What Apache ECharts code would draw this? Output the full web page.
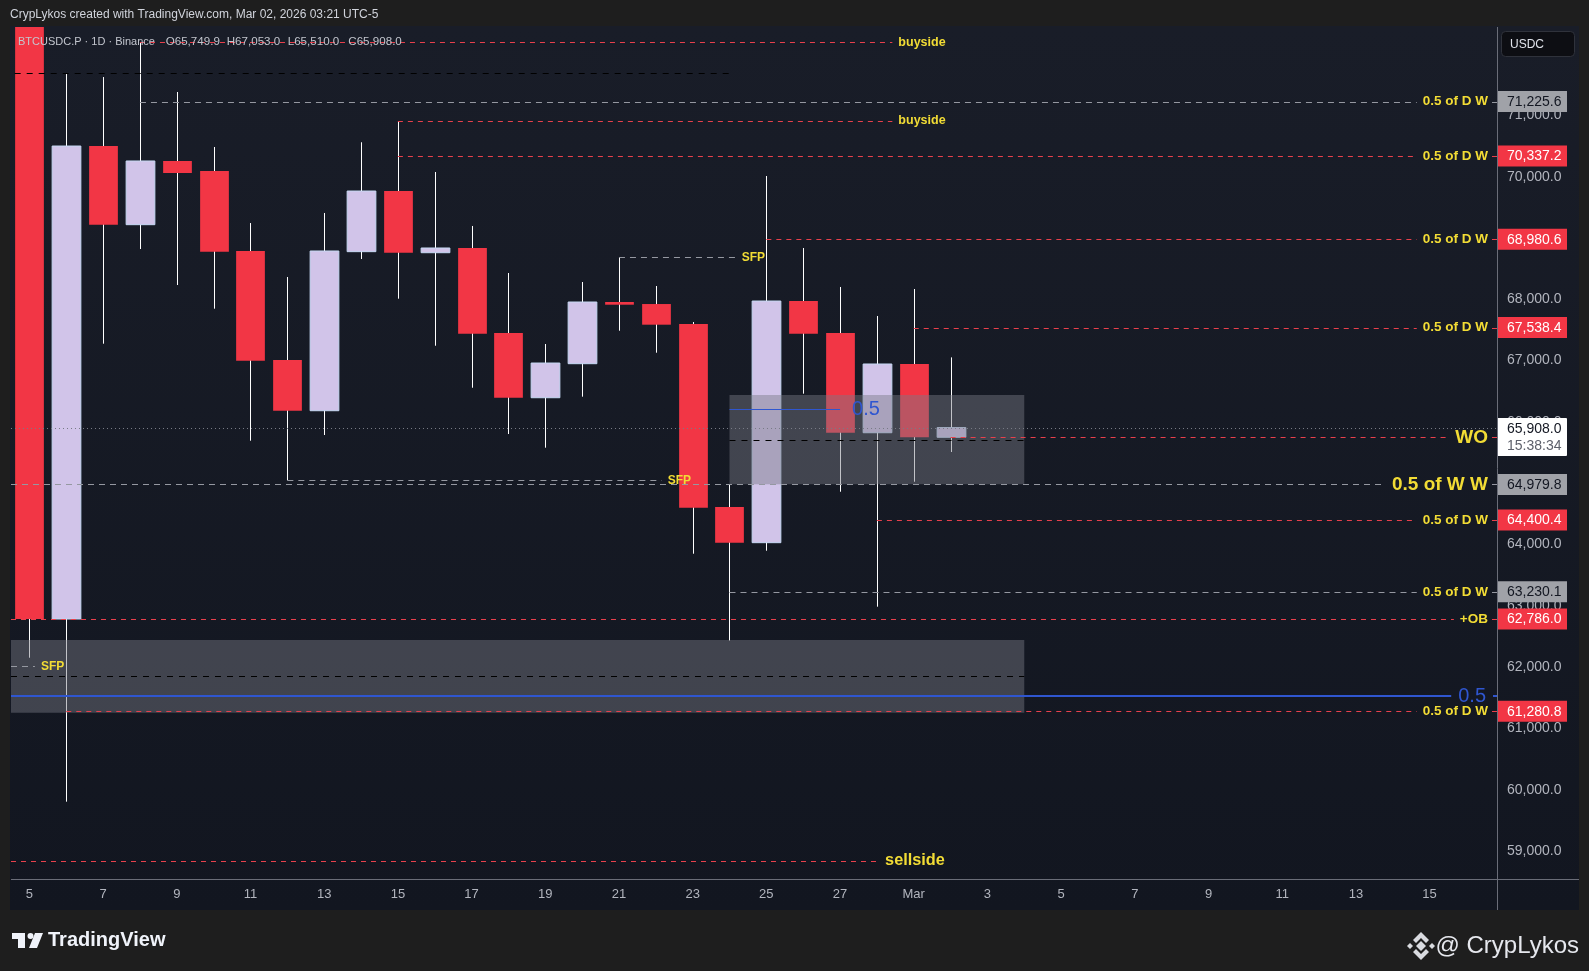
<!DOCTYPE html>
<html>
<head>
<meta charset="utf-8">
<script src="https://cdn.jsdelivr.net/npm/echarts@6/dist/echarts.min.js"></script>
<style>
html,body{margin:0;padding:0;background:#1e1e1e;}
#c{width:1589px;height:971px;}
</style>
</head>
<body>
<div id="c"></div>
<script>
// ---------------- DATA ----------------
const headerText = 'CrypLykos created with TradingView.com, Mar 02, 2026 03:21 UTC-5';
const symbolInfo = 'BTCUSDC.P · 1D · Binance';
const quoteCurrency = 'USDC';
const countdown = '15:38:34';

// daily candles, Feb 5 (index 0) .. Mar 2 (index 25)
const days   = ['Feb 5','Feb 6','Feb 7','Feb 8','Feb 9','Feb 10','Feb 11','Feb 12','Feb 13','Feb 14','Feb 15','Feb 16','Feb 17','Feb 18','Feb 19','Feb 20','Feb 21','Feb 22','Feb 23','Feb 24','Feb 25','Feb 26','Feb 27','Feb 28','Mar 1','Mar 2'];
const opens  = [73200, 62786, 70500, 69217, 70256, 70093, 68788, 67010, 66183, 68777, 69766, 68760, 68837, 67451, 66395, 66950, 67956, 67923, 67597, 64613, 64031, 67972, 67451, 65824, 66945, 65749.9];
const closes = [62786, 70500, 69217, 70256, 70060, 68777, 66999, 66183, 68788, 69766, 68760, 68837, 67439, 66395, 66961, 67956, 67912, 67586, 64601, 64031, 67972, 67439, 65824, 66945, 65749.9, 65908.0];
const lows   = [62155, 59807, 67276, 68820, 68233, 67847, 65694, 65048, 65787, 68657, 68010, 67243, 66558, 65803, 65580, 66412, 67488, 67129, 63851, 62434, 63900, 66461, 64862, 62987, 65025, 65510.0];
const highs  = [73400, 71675, 71625, 72180, 71381, 70484, 69244, 68364, 69408, 70561, 70908, 70076, 69196, 68429, 67271, 68282, 68685, 68217, 67630, 64972, 70011, 68837, 68201, 67728, 68168, 67053.0];

// axis ticks
const xTickIdx    = [0,2,4,6,8,10,12,14,16,18,20,22,24,26,28,30,32,34,36,38];
const xTickLabels = ['5','7','9','11','13','15','17','19','21','23','25','27','Mar','3','5','7','9','11','13','15'];
const yTicks      = [59000,60000,61000,62000,63000,64000,65000,66000,67000,68000,69000,70000,71000];

// horizontal levels with right-side labels (start bar index)
const levelValues = [71225.6, 70337.2, 68980.6, 67538.4, 65749.9, 64979.8, 64400.4, 63230.1, 62786.0, 61280.8];
const levelFrom   = [3, 10, 20, 24, 25, -0.5, 23, 19, -0.5, 1];
const levelText   = ['0.5 of D W','0.5 of D W','0.5 of D W','0.5 of D W','WO','0.5 of W W','0.5 of D W','0.5 of D W','+OB','0.5 of D W'];
const levelKind   = ['gray','red','red','red','red','gray','red','gray','red','red'];
const levelTagged = [true, true, true, true, false, true, true, true, true, true];

// liquidity / SFP notes (line from bar to bar, text after)
const noteValues = [72190, 70908, 58840, 68685, 65048, 62015];
const noteFrom   = [3, 10, -0.5, 16, 7, -0.5];
const noteTo     = [23.42, 23.42, 23.06, 19.17, 17.16, 0.15];
const noteText   = ['buyside','buyside','sellside','SFP','SFP','SFP'];
const noteKind   = ['red','red','red','gray','gray','gray'];

// black dashed level
const blackValues = [71696];
const blackFrom   = [-0.4];
const blackTo     = [19];

// rectangles (zones)
const boxFrom = [19, -0.5];
const boxTo   = [27, 27];
const boxHigh = [66439, 62443];
const boxLow  = [64983, 61258];

// 0.5 fib lines
const fibValues = [66206, 61530];
const fibFrom   = [19, -0.5];
const fibTo     = [22, 39.83];
const fibText   = ['0.5', '0.5'];

// ---------------- LAYOUT / STYLE ----------------
const X_MIN = -0.5, X_MAX = 39.83, Y_MIN = 58546, Y_MAX = 72441;
const FONT = 'Liberation Sans';
const C = {
  red: '#F23645', redLine: '#e8404c', gray: '#9598a1', grayTag: '#a0a2a8',
  yellow: '#f2dc35', up: '#d1c4e9', upBorder: '#c6d8f3', down: '#F23645',
  blue: '#2f56d0', axisText: '#b2b5be', dark: '#131722'
};
const NOTE_FONT = { buyside: 12.5, sellside: 16.3, SFP: 12 };

const mctx = document.createElement('canvas').getContext('2d');
function textW(s, size, weight) {
  mctx.font = (weight || 'normal') + ' ' + size + 'px ' + FONT;
  return mctx.measureText(s).width;
}
function fmtNum(v) {
  const s = v.toFixed(1).split('.');
  return s[0].replace(/\B(?=(\d{3})+(?!\d))/g, ',') + '.' + s[1];
}
function hline(x1, x2, y, color, dash, width) {
  return { type: 'line', shape: { x1: x1, y1: y, x2: x2, y2: y },
    style: { stroke: color, lineWidth: width || 1, lineDash: dash || null } };
}
function txt(s, x, y, size, weight, color, align, extra) {
  const st = {
    text: s, fill: color, textFill: color,
    fontSize: size, fontWeight: weight, fontFamily: FONT,
    align: align, textAlign: align, verticalAlign: 'middle', textVerticalAlign: 'middle'
  };
  if (extra) Object.assign(st, extra);
  return { type: 'text', x: x, y: y, style: st };
}
const snap = y => Math.round(y) + 0.5;

// ---------------- RENDERERS ----------------
function renderCandle(params, api) {
  const i = api.value(0), o = api.value(1), c = api.value(2), l = api.value(3), h = api.value(4);
  const pO = api.coord([i, o]), pC = api.coord([i, c]), pL = api.coord([i, l]), pH = api.coord([i, h]);
  const w = api.size([1, 0])[0] * 0.78;
  const up = c >= o;
  const cx = Math.round(pO[0]);
  const top = Math.min(pO[1], pC[1]), bot = Math.max(pO[1], pC[1]);
  return { type: 'group', children: [
    { type: 'line', shape: { x1: cx + 0.5, y1: pH[1], x2: cx + 0.5, y2: pL[1] }, style: { stroke: '#ffffff', lineWidth: 1 } },
    { type: 'rect', shape: { x: cx + 0.5 - w / 2, y: top, width: w, height: Math.max(bot - top, 2) },
      style: up ? { fill: C.up, stroke: C.upBorder, lineWidth: 1 } : { fill: C.down } }
  ]};
}

function renderBox(params, api) {
  const k = api.value(2);
  const a = api.coord([boxFrom[k], boxHigh[k]]);
  const b = api.coord([boxTo[k], boxLow[k]]);
  const m = api.coord([boxFrom[k], (boxHigh[k] + boxLow[k]) / 2]);
  return { type: 'group', children: [
    { type: 'rect', shape: { x: a[0], y: a[1], width: b[0] - a[0], height: b[1] - a[1] },
      style: { fill: 'rgba(120,123,134,0.45)' } },
    hline(a[0], b[0], snap(m[1]), '#000000', [6, 6])
  ]};
}

function renderBlack(params, api) {
  const k = api.value(2);
  const a = api.coord([blackFrom[k], blackValues[k]]);
  const b = api.coord([blackTo[k], blackValues[k]]);
  return hline(a[0], b[0], snap(a[1]), '#000000', [6, 6]);
}

function renderNote(params, api) {
  const k = api.value(2);
  const a = api.coord([noteFrom[k], noteValues[k]]);
  const b = api.coord([noteTo[k], noteValues[k]]);
  const col = noteKind[k] === 'red' ? C.redLine : C.gray;
  return { type: 'group', children: [
    hline(a[0], b[0], snap(a[1]), col, noteKind[k] === 'red' ? [5, 5] : [6, 5]),
    txt(noteText[k], b[0] + 6, a[1], NOTE_FONT[noteText[k]], 'bold', C.yellow, 'left')
  ]};
}

function renderFib(params, api) {
  const k = api.value(2);
  const cs = params.coordSys;
  const R = cs.x + cs.width;
  const a = api.coord([fibFrom[k], fibValues[k]]);
  const b = api.coord([fibTo[k], fibValues[k]]);
  const y = Math.round(a[1]) + (k === 1 ? 0 : 0.5);
  const lw = k === 1 ? 2 : 1;
  const fs = 20;
  if (b[0] >= R - 1) {
    const tr = R - 11, tw = textW(fibText[k], fs);
    return { type: 'group', children: [
      hline(a[0], tr - tw - 7, y, C.blue, null, lw),
      hline(R - 4, R, y, C.blue, null, lw),
      txt(fibText[k], tr, a[1], fs, 'normal', C.blue, 'right')
    ]};
  }
  return { type: 'group', children: [
    hline(a[0], b[0], y, C.blue, null, lw),
    txt(fibText[k], b[0] + 12, a[1], fs, 'normal', C.blue, 'left')
  ]};
}

function renderLevel(params, api) {
  const k = api.value(2);
  const v = levelValues[k];
  const cs = params.coordSys;
  const R = cs.x + cs.width;
  const a = api.coord([levelFrom[k], v]);
  const y = snap(a[1]);
  const big = (levelText[k] === 'WO' || levelText[k] === '0.5 of W W');
  const fs = big ? 19 : 13.5;
  const tr = R - 9;
  const tw = textW(levelText[k], fs, 'bold');
  const gap = big ? 9 : 6;
  const red = levelKind[k] === 'red';
  const col = red ? C.redLine : C.gray;
  const ch = [
    hline(a[0], tr - tw - gap, y, col, red ? [5, 5] : [6, 5]),
    hline(tr + 4, R, y, col, null),
    txt(levelText[k], tr, a[1], fs, 'bold', C.yellow, 'right')
  ];
  if (levelTagged[k]) {
    ch.push({ type: 'rect', shape: { x: R, y: a[1] - 10.5, width: 70, height: 21 },
      style: { fill: red ? C.red : C.grayTag } });
    ch.push(txt(fmtNum(v), R + 10, a[1] + 0.5, 14, 'normal', red ? '#ffffff' : C.dark, 'left'));
  }
  return { type: 'group', children: ch };
}

function renderLast(params, api) {
  const v = api.value(1);
  const cs = params.coordSys;
  const L = cs.x, R = cs.x + cs.width;
  const a = api.coord([X_MIN, v]);
  return { type: 'group', children: [
    hline(L, R, snap(a[1]), '#787b86', [1, 3]),
    { type: 'rect', shape: { x: R, y: a[1] - 9.5, width: 70, height: 38, r: 1 }, style: { fill: '#ffffff' } },
    txt(fmtNum(v), R + 10, a[1] + 1.5, 14, 'normal', C.dark, 'left'),
    txt(countdown, R + 10, a[1] + 18.5, 14, 'normal', '#5d606b', 'left')
  ]};
}

// ---------------- CHART ----------------
const chart = echarts.init(document.getElementById('c'), null, { renderer: 'canvas' });
const last = closes.length - 1;
const legendParts = [
  ['O' + fmtNum(opens[last]), 165.7],
  ['H' + fmtNum(highs[last]), 226.7],
  ['L' + fmtNum(lows[last]), 287.7],
  ['C' + fmtNum(closes[last]), 348.3]
];

function gtext(s, x, y, size, weight, color, align, z) {
  const t = txt(s, x, y, size, weight, color, align);
  t.z = z || 100;
  return t;
}

const graphics = [
  { type: 'rect', z: -100, shape: { x: 10, y: 26, width: 1569, height: 884 },
    style: { fill: new echarts.graphic.LinearGradient(0, 0, 0, 1, [
      { offset: 0, color: '#191d28' }, { offset: 1, color: '#121620' }]) } },
  { type: 'line', z: 50, shape: { x1: 11, y1: 879.5, x2: 1579, y2: 879.5 }, style: { stroke: '#6a6d78', lineWidth: 1 } },
  { type: 'line', z: 50, shape: { x1: 1497.5, y1: 27, x2: 1497.5, y2: 910 }, style: { stroke: '#6a6d78', lineWidth: 1 } },
  gtext(headerText, 10, 14.5, 12, 'normal', '#d1d4dc', 'left'),
  gtext(symbolInfo, 18, 41.7, 11, 'normal', '#c3c6ce', 'left'),
  { type: 'rect', z: 100, shape: { x: 1501.5, y: 31.5, width: 73, height: 25, r: 4 },
    style: { fill: '#0d0e13', stroke: '#2f323b', lineWidth: 1 } },
  gtext(quoteCurrency, 1510, 44.5, 12, 'normal', '#e0e3eb', 'left'),
  // TradingView logo
  { type: 'rect', z: 100, shape: { x: 12, y: 933, width: 13, height: 6 }, style: { fill: '#f0f3fa' } },
  { type: 'rect', z: 100, shape: { x: 18, y: 933, width: 7, height: 15 }, style: { fill: '#f0f3fa' } },
  { type: 'circle', z: 100, shape: { cx: 30.5, cy: 936, r: 3 }, style: { fill: '#f0f3fa' } },
  { type: 'polygon', z: 100, shape: { points: [[35, 933], [43, 933], [37, 948], [29, 948]] }, style: { fill: '#f0f3fa' } },
  gtext('TradingView', 48, 940.5, 20, 'bold', '#f0f3fa', 'left'),
  // author mark
  { type: 'polygon', z: 100, shape: { points: [[1421, 941], [1426, 946], [1421, 951], [1416, 946]] }, style: { fill: '#d9dbe0' } },
  { type: 'polygon', z: 100, shape: { points: [[1410, 943], [1413, 946], [1410, 949], [1407, 946]] }, style: { fill: '#d9dbe0' } },
  { type: 'polygon', z: 100, shape: { points: [[1432, 943], [1435, 946], [1432, 949], [1429, 946]] }, style: { fill: '#d9dbe0' } },
  { type: 'polygon', z: 100, shape: { points: [[1421, 932], [1429, 940], [1426, 943], [1421, 938], [1416, 943], [1413, 940]] }, style: { fill: '#d9dbe0' } },
  { type: 'polygon', z: 100, shape: { points: [[1421, 960], [1429, 952], [1426, 949], [1421, 954], [1416, 949], [1413, 952]] }, style: { fill: '#d9dbe0' } },
  gtext('@ CrypLykos', 1579, 946, 24, 'normal', '#e6e8ee', 'right')
];
legendParts.forEach(p => graphics.push(gtext(p[0], p[1], 41.7, 11.6, 'normal', '#c3c6ce', 'left')));

const option = {
  animation: false,
  backgroundColor: '#1e1e1e',
  grid: { left: 11, right: 92, top: 27, bottom: 92, containLabel: false },
  xAxis: {
    type: 'value', min: X_MIN, max: X_MAX,
    axisLine: { show: false }, axisTick: { show: false }, splitLine: { show: false },
    axisLabel: {
      customValues: xTickIdx,
      formatter: v => { const j = xTickIdx.indexOf(Math.round(v)); return j >= 0 ? xTickLabels[j] : ''; },
      color: C.axisText, fontSize: 13, fontFamily: FONT, margin: 9
    }
  },
  yAxis: {
    type: 'value', position: 'right', min: Y_MIN, max: Y_MAX,
    axisLine: { show: false }, axisTick: { show: false }, splitLine: { show: false },
    axisLabel: {
      customValues: yTicks,
      formatter: v => fmtNum(v),
      color: C.axisText, fontSize: 14, fontFamily: FONT, margin: 10
    }
  },
  graphic: graphics,
  series: [
    { type: 'custom', name: 'candles', clip: true, renderItem: renderCandle,
      encode: { x: 0, y: [1, 2, 3, 4] },
      data: opens.map((o, i) => [i, o, closes[i], lows[i], highs[i]]) },
    { type: 'custom', name: 'zones', clip: true, renderItem: renderBox, encode: { x: 0, y: 1 },
      data: boxFrom.map((f, k) => [f, boxHigh[k], k]) },
    { type: 'custom', name: 'black', clip: true, renderItem: renderBlack, encode: { x: 0, y: 1 },
      data: blackValues.map((v, k) => [blackFrom[k], v, k]) },
    { type: 'custom', name: 'notes', clip: false, renderItem: renderNote, encode: { x: 0, y: 1 },
      data: noteValues.map((v, k) => [noteFrom[k], v, k]) },
    { type: 'custom', name: 'fib', clip: false, renderItem: renderFib, encode: { x: 0, y: 1 },
      data: fibValues.map((v, k) => [fibFrom[k], v, k]) },
    { type: 'custom', name: 'levels', clip: false, renderItem: renderLevel, encode: { x: 0, y: 1 },
      data: levelValues.map((v, k) => [levelFrom[k], v, k]) },
    { type: 'custom', name: 'last', clip: false, renderItem: renderLast, encode: { x: 0, y: 1 },
      data: [[X_MIN, closes[last]]] }
  ]
};
chart.setOption(option);
</script>
</body>
</html>
